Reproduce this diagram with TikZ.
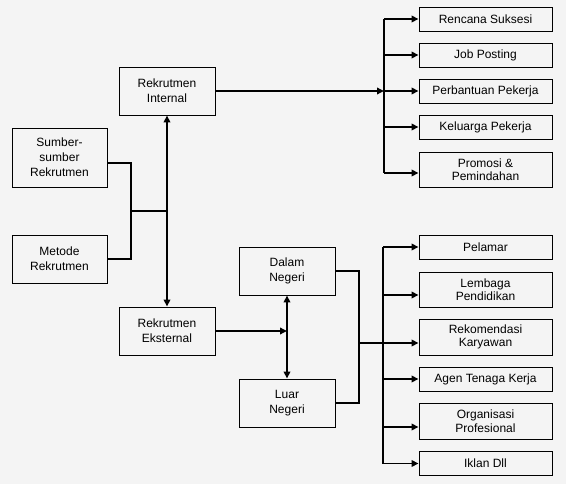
\documentclass[tikz,border=0pt]{standalone}
\usepackage{fontspec}
\setmainfont{Liberation Sans}
\usetikzlibrary{arrows.meta}
\definecolor{bg}{RGB}{244,244,244}
\tikzset{
  box/.style={draw,line width=0.9pt,align=center,inner sep=0pt,font=\fontsize{12}{15}\selectfont},
  leftbox/.style={box,minimum width=96pt,minimum height=48pt},
  srcbox/.style={box,minimum width=133pt,minimum height=24pt,font=\fontsize{12}{13.5}\selectfont},
  link/.style={line width=1.8pt},
  arr/.style={link,-{Triangle[length=7pt,width=6.5pt]}},
  twoway/.style={link,{Triangle[length=7pt,width=6.5pt]}-{Triangle[length=7pt,width=6.5pt]}}
}

\begin{document}
\begin{tikzpicture}[x=1pt,y=-1pt]
\fill[bg] (0,0) rectangle (566,484);

% left part
\node[leftbox] (internal) at (167,91) {Rekrutmen\\Internal};
\node[leftbox,minimum width=95pt,minimum height=59pt] (sumber) at (59.5,157.5) {Sumber-\\sumber\\Rekrutmen};
\node[leftbox,minimum width=95pt] (metode) at (59.5,259) {Metode\\Rekrutmen};
\node[leftbox] (eksternal) at (167,331) {Rekrutmen\\Eksternal};
\node[leftbox] (dalam) at (287,271) {Dalam\\Negeri};
\node[leftbox] (luar) at (287,403) {Luar\\Negeri};

% internal sources
\node[srcbox] (rencana) at (485.5,19) {Rencana Suksesi};
\node[srcbox] (job) at (485.5,55) {Job Posting};
\node[srcbox] (bantu) at (485.5,91) {Perbantuan Pekerja};
\node[srcbox] (keluarga) at (485.5,127) {Keluarga Pekerja};
\node[srcbox,minimum height=35pt] (promosi) at (485.5,169.5) {Promosi \&\\Pemindahan};

% external sources
\node[srcbox] (pelamar) at (485.5,247) {Pelamar};
\node[srcbox,minimum height=35pt] (lembaga) at (485.5,289.5) {Lembaga\\Pendidikan};
\node[srcbox,minimum height=36pt] (rekomendasi) at (485.5,337) {Rekomendasi\\Karyawan};
\node[srcbox] (agen) at (485.5,379) {Agen Tenaga Kerja};
\node[srcbox,minimum height=36pt] (organisasi) at (485.5,421) {Organisasi\\Profesional};
\node[srcbox] (iklan) at (485.5,463.5) {Iklan Dll};

\coordinate (kiri) at (131,211);
\coordinate (busatas) at (384,0);
\coordinate (tengah) at (359,343);
\coordinate (busbawah) at (383,0);

\draw[link] ([yshift=-5.5pt]sumber.east) -| (kiri) |- (metode.east);
\draw[link] (kiri) -- (kiri -| internal.south);
\draw[twoway] (internal) -- (eksternal);
\draw[twoway] (dalam) -- (luar);
\draw[arr] (eksternal.east) -- (eksternal.east -| dalam.south);

% top fan
\draw[arr] (internal.east) -- (internal.east -| busatas);
\draw[link] (rencana.west -| busatas) -- ([yshift=-3.5pt]promosi.west -| busatas);
\draw[arr] (rencana.west -| busatas) -- (rencana.west);
\draw[arr] (job.west -| busatas) -- (job.west);
\draw[arr] (bantu.west -| busatas) -- (bantu.west);
\draw[arr] (keluarga.west -| busatas) -- (keluarga.west);
\draw[arr] ([yshift=-3.5pt]promosi.west -| busatas) -- ([yshift=-3.5pt]promosi.west);

% bottom fan
\draw[link] (dalam.east) -| (tengah) |- (luar.east);
\draw[link] (tengah) -- (tengah -| busbawah);
\draw[link] (pelamar.west -| busbawah) -- (iklan.west -| busbawah);
\draw[arr] (pelamar.west -| busbawah) -- (pelamar.west);
\draw[arr] ([yshift=-5.5pt]lembaga.west -| busbawah) -- ([yshift=-5.5pt]lembaga.west);
\draw[arr] ([yshift=-6pt]rekomendasi.west -| busbawah) -- ([yshift=-6pt]rekomendasi.west);
\draw[arr] (agen.west -| busbawah) -- (agen.west);
\draw[arr] ([yshift=-6pt]organisasi.west -| busbawah) -- ([yshift=-6pt]organisasi.west);
\draw[arr] (iklan.west -| busbawah) -- (iklan.west);
\end{tikzpicture}
\end{document}
